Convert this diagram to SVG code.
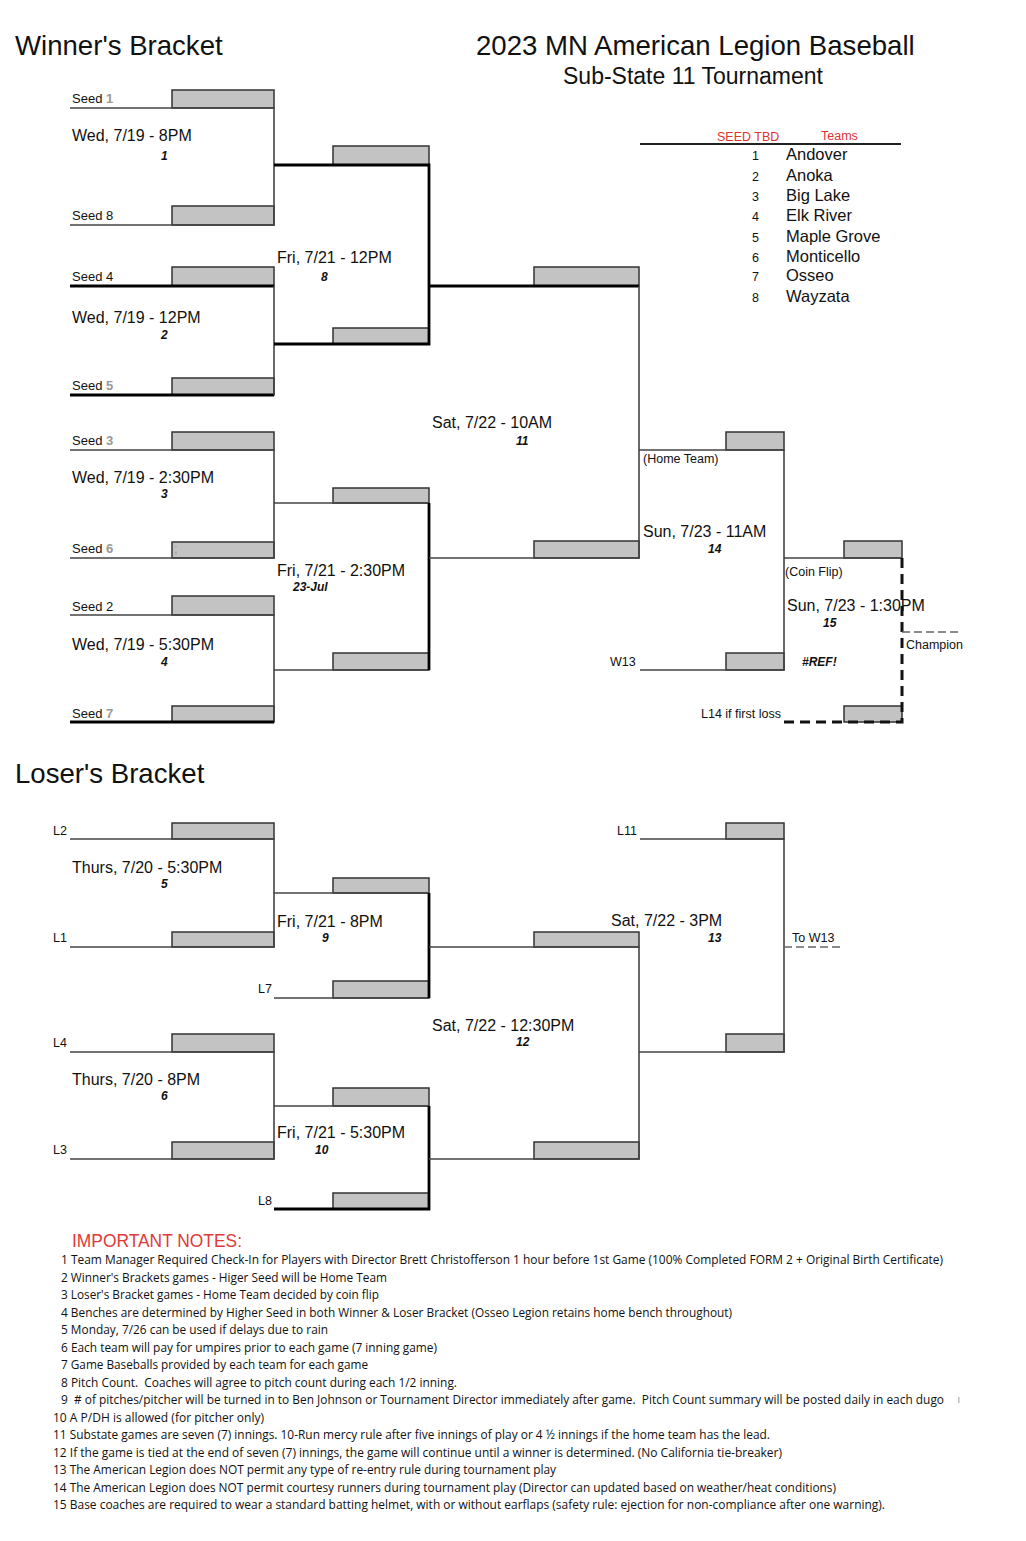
<svg xmlns="http://www.w3.org/2000/svg" width="1026" height="1541" viewBox="0 0 1026 1541">
<style>
text { font-family: "Liberation Sans", Arial, sans-serif; fill: #111; }
.title { font-size: 27.6px; }
.sub { font-size: 23px; }
.g { font-size: 16px; }
.seed { font-size: 13px; }
.sm { font-size: 12.5px; }
.gn { font-size: 12px; font-weight: bold; font-style: italic; }
.gr { fill: #999; }
.red { fill: #d33; }
.team { font-size: 16.5px; }
.note { font-family: "Open Sans", "Liberation Sans", sans-serif; font-size: 12.5px; }
.box { fill: #c3c3c3; stroke: #333; stroke-width: 1.5; }
.ln { stroke: #444; stroke-width: 1.6; fill: none; }
.tk { stroke: #000; stroke-width: 2.8; fill: none; }
.dash { stroke: #111; stroke-width: 3; stroke-dasharray: 10 6; fill: none; }
.dashg { stroke: #666; stroke-width: 1.6; stroke-dasharray: 8 4; fill: none; }
</style>
<rect width="1026" height="1541" fill="#fff"/>

<g id="titles">
<text class="title" x="15" y="55">Winner's Bracket</text>
<text class="title" x="476" y="55">2023 MN American Legion Baseball</text>
<text class="sub" x="563" y="84">Sub-State 11 Tournament</text>
<text class="title" x="15" y="783">Loser's Bracket</text>
</g>

<g id="legend">
<line x1="640" y1="144" x2="901" y2="144" stroke="#222" stroke-width="2"/>
<text class="sm red" x="717" y="141">SEED TBD</text>
<text class="sm red" x="821" y="140">Teams</text>
<text class="sm" x="752" y="160">1</text><text class="team" x="786" y="160">Andover</text>
<text class="sm" x="752" y="181">2</text><text class="team" x="786" y="181">Anoka</text>
<text class="sm" x="752" y="201">3</text><text class="team" x="786" y="201">Big Lake</text>
<text class="sm" x="752" y="221">4</text><text class="team" x="786" y="221">Elk River</text>
<text class="sm" x="752" y="242">5</text><text class="team" x="786" y="242">Maple Grove</text>
<text class="sm" x="752" y="262">6</text><text class="team" x="786" y="262">Monticello</text>
<text class="sm" x="752" y="281">7</text><text class="team" x="786" y="281">Osseo</text>
<text class="sm" x="752" y="302">8</text><text class="team" x="786" y="302">Wayzata</text>
</g>

<!-- Winner's bracket nodes -->
<g id="w-game1">
<rect class="box" x="172" y="90" width="102" height="18"/>
<rect class="box" x="172" y="206" width="102" height="19"/>
<text class="seed" x="72" y="103">Seed <tspan class="gr" font-weight="bold">1</tspan></text>
<text class="seed" x="72" y="220">Seed 8</text>
<text class="g" x="72" y="141">Wed, 7/19 - 8PM</text>
<text class="gn" x="161" y="160">1</text>
</g>
<g id="w-game2">
<rect class="box" x="172" y="267" width="102" height="19"/>
<rect class="box" x="172" y="378" width="102" height="17"/>
<text class="seed" x="72" y="281">Seed 4</text>
<text class="seed" x="72" y="390">Seed <tspan class="gr" font-weight="bold">5</tspan></text>
<text class="g" x="72" y="323">Wed, 7/19 - 12PM</text>
<text class="gn" x="161" y="339">2</text>
</g>
<g id="w-game3">
<rect class="box" x="172" y="432" width="102" height="18"/>
<rect class="box" x="172" y="542" width="102" height="16"/>
<text class="seed" x="72" y="445">Seed <tspan class="gr" font-weight="bold">3</tspan></text>
<text class="seed" x="72" y="553">Seed <tspan class="gr" font-weight="bold">6</tspan></text>
<text class="seed gr" x="174" y="553">;</text>
<text class="g" x="72" y="483">Wed, 7/19 - 2:30PM</text>
<text class="gn" x="161" y="498">3</text>
</g>
<g id="w-game4">
<rect class="box" x="172" y="596" width="102" height="19"/>
<rect class="box" x="172" y="706" width="102" height="16"/>
<text class="seed" x="72" y="611">Seed 2</text>
<text class="seed" x="72" y="718">Seed <tspan class="gr" font-weight="bold">7</tspan></text>
<text class="g" x="72" y="650">Wed, 7/19 - 5:30PM</text>
<text class="gn" x="161" y="666">4</text>
</g>
<g id="w-game8">
<rect class="box" x="333" y="146" width="96" height="19"/>
<rect class="box" x="333" y="328" width="96" height="16"/>
<text class="g" x="277" y="263">Fri, 7/21 - 12PM</text>
<text class="gn" x="321" y="281">8</text>
</g>
<g id="w-game-jul23">
<rect class="box" x="333" y="488" width="96" height="15"/>
<rect class="box" x="333" y="653" width="96" height="17"/>
<text class="g" x="277" y="576">Fri, 7/21 - 2:30PM</text>
<text class="gn" x="293" y="591">23-Jul</text>
</g>
<g id="w-game11">
<rect class="box" x="534" y="267" width="105" height="19"/>
<rect class="box" x="534" y="541" width="105" height="17"/>
<text class="g" x="432" y="428">Sat, 7/22 - 10AM</text>
<text class="gn" x="516" y="445">11</text>
</g>
<g id="w-game14">
<rect class="box" x="726" y="432" width="58" height="18"/>
<rect class="box" x="726" y="653" width="58" height="17"/>
<text class="sm" x="643" y="463">(Home Team)</text>
<text class="g" x="643" y="537">Sun, 7/23 - 11AM</text>
<text class="gn" x="708" y="553">14</text>
<text class="sm" x="610" y="666">W13</text>
</g>
<g id="w-game15">
<rect class="box" x="844" y="541" width="58" height="17"/>
<rect class="box" x="844" y="706" width="58" height="16"/>
<text class="sm" x="785" y="576">(Coin Flip)</text>
<text class="g" x="787" y="611">Sun, 7/23 - 1:30PM</text>
<text class="gn" x="823" y="627">15</text>
<text class="gn" x="802" y="666">#REF!</text>
<text class="sm" x="701" y="718">L14 if first loss</text>
<text class="sm" x="906" y="649">Champion</text>
</g>

<!-- Loser's bracket nodes -->
<g id="l-game5">
<rect class="box" x="172" y="823" width="102" height="16"/>
<rect class="box" x="172" y="932" width="102" height="15"/>
<text class="sm" x="53" y="835">L2</text>
<text class="sm" x="53" y="942">L1</text>
<text class="g" x="72" y="873">Thurs, 7/20 - 5:30PM</text>
<text class="gn" x="161" y="888">5</text>
</g>
<g id="l-game6">
<rect class="box" x="172" y="1034" width="102" height="18"/>
<rect class="box" x="172" y="1142" width="102" height="17"/>
<text class="sm" x="53" y="1047">L4</text>
<text class="sm" x="53" y="1154">L3</text>
<text class="g" x="72" y="1085">Thurs, 7/20 - 8PM</text>
<text class="gn" x="161" y="1100">6</text>
</g>
<g id="l-game9">
<rect class="box" x="333" y="878" width="96" height="15"/>
<rect class="box" x="333" y="981" width="96" height="17"/>
<text class="g" x="277" y="927">Fri, 7/21 - 8PM</text>
<text class="gn" x="322" y="942">9</text>
<text class="sm" x="258" y="993">L7</text>
</g>
<g id="l-game10">
<rect class="box" x="333" y="1088" width="96" height="18"/>
<rect class="box" x="333" y="1193" width="96" height="16"/>
<text class="g" x="277" y="1138">Fri, 7/21 - 5:30PM</text>
<text class="gn" x="315" y="1154">10</text>
<text class="sm" x="258" y="1205">L8</text>
</g>
<g id="l-game12">
<rect class="box" x="534" y="932" width="105" height="15"/>
<rect class="box" x="534" y="1142" width="105" height="17"/>
<text class="g" x="432" y="1031">Sat, 7/22 - 12:30PM</text>
<text class="gn" x="516" y="1046">12</text>
</g>
<g id="l-game13">
<rect class="box" x="726" y="823" width="58" height="16"/>
<rect class="box" x="726" y="1034" width="58" height="18"/>
<text class="sm" x="617" y="835">L11</text>
<text class="g" x="611" y="926">Sat, 7/22 - 3PM</text>
<text class="gn" x="708" y="942">13</text>
<text class="sm" x="792" y="942">To W13</text>
</g>

<g id="connectors">
<!-- winners round 1 -->
<path class="ln" d="M70 108H274V225H70M70 450H274V558H70M70 615H274V722"/>
<path class="tk" d="M70 286H274M70 395H274M70 722H274"/>
<path class="ln" d="M274 286V395"/>
<!-- winners round 2 -->
<path class="tk" d="M274 165H429V344H274M429 286H639"/>
<path class="ln" d="M274 503H429M274 670H429"/>
<path class="tk" d="M429 503V670"/>
<!-- winners round 3/4 -->
<path class="ln" d="M429 558H639V286M639 450H784V670H640M784 558H902"/>
<path class="dash" d="M902 558V722H784"/>
<path class="dashg" d="M902 632H960"/>
<!-- losers -->
<path class="ln" d="M70 839H274V947H70M70 1052H274V1159H70"/>
<path class="ln" d="M274 893H429M274 998H429M274 1106H429"/>
<path class="tk" d="M429 893V998M429 1106V1209H274"/>
<path class="ln" d="M429 947H639V1159H429M639 1052H784V839H640"/>
<path class="dashg" d="M784 947H843"/>
</g>

<g id="notes">
<text x="72" y="1247" font-family="'Open Sans','Liberation Sans',sans-serif" font-size="18" style="fill:#e03a3a" textLength="170" lengthAdjust="spacingAndGlyphs">IMPORTANT NOTES:</text>
<text class="note" x="61" y="1264" textLength="882" lengthAdjust="spacingAndGlyphs">1 Team Manager Required Check-In for Players with Director Brett Christofferson 1 hour before 1st Game (100% Completed FORM 2 + Original Birth Certificate)</text>
<text class="note" x="61" y="1282" textLength="326" lengthAdjust="spacingAndGlyphs">2 Winner's Brackets games - Higer Seed will be Home Team</text>
<text class="note" x="61" y="1299" textLength="318" lengthAdjust="spacingAndGlyphs">3 Loser's Bracket games - Home Team decided by coin flip</text>
<text class="note" x="61" y="1317" textLength="671" lengthAdjust="spacingAndGlyphs">4 Benches are determined by Higher Seed in both Winner &amp; Loser Bracket (Osseo Legion retains home bench throughout)</text>
<text class="note" x="61" y="1334" textLength="267" lengthAdjust="spacingAndGlyphs">5 Monday, 7/26 can be used if delays due to rain</text>
<text class="note" x="61" y="1352" textLength="376" lengthAdjust="spacingAndGlyphs">6 Each team will pay for umpires prior to each game (7 inning game)</text>
<text class="note" x="61" y="1369" textLength="307" lengthAdjust="spacingAndGlyphs">7 Game Baseballs provided by each team for each game</text>
<text class="note" x="61" y="1387" textLength="396" lengthAdjust="spacingAndGlyphs" xml:space="preserve">8 Pitch Count.  Coaches will agree to pitch count during each 1/2 inning.</text>
<text class="note" x="61" y="1404" textLength="883" lengthAdjust="spacingAndGlyphs" xml:space="preserve">9  # of pitches/pitcher will be turned in to Ben Johnson or Tournament Director immediately after game.  Pitch Count summary will be posted daily in each dugo</text>
<rect x="958" y="1397" width="1.5" height="6" fill="#bbb"/>
<text class="note" x="53" y="1422" textLength="211" lengthAdjust="spacingAndGlyphs">10 A P/DH is allowed (for pitcher only)</text>
<text class="note" x="53" y="1439" textLength="717" lengthAdjust="spacingAndGlyphs">11 Substate games are seven (7) innings. 10-Run mercy rule after five innings of play or 4 ½ innings if the home team has the lead.</text>
<text class="note" x="53" y="1457" textLength="729" lengthAdjust="spacingAndGlyphs">12 If the game is tied at the end of seven (7) innings, the game will continue until a winner is determined. (No California tie-breaker)</text>
<text class="note" x="53" y="1474" textLength="503" lengthAdjust="spacingAndGlyphs">13 The American Legion does NOT permit any type of re-entry rule during tournament play</text>
<text class="note" x="53" y="1492" textLength="783" lengthAdjust="spacingAndGlyphs">14 The American Legion does NOT permit courtesy runners during tournament play (Director can updated based on weather/heat conditions)</text>
<text class="note" x="53" y="1509" textLength="832" lengthAdjust="spacingAndGlyphs">15 Base coaches are required to wear a standard batting helmet, with or without earflaps (safety rule: ejection for non-compliance after one warning).</text>
</g>
</svg>
